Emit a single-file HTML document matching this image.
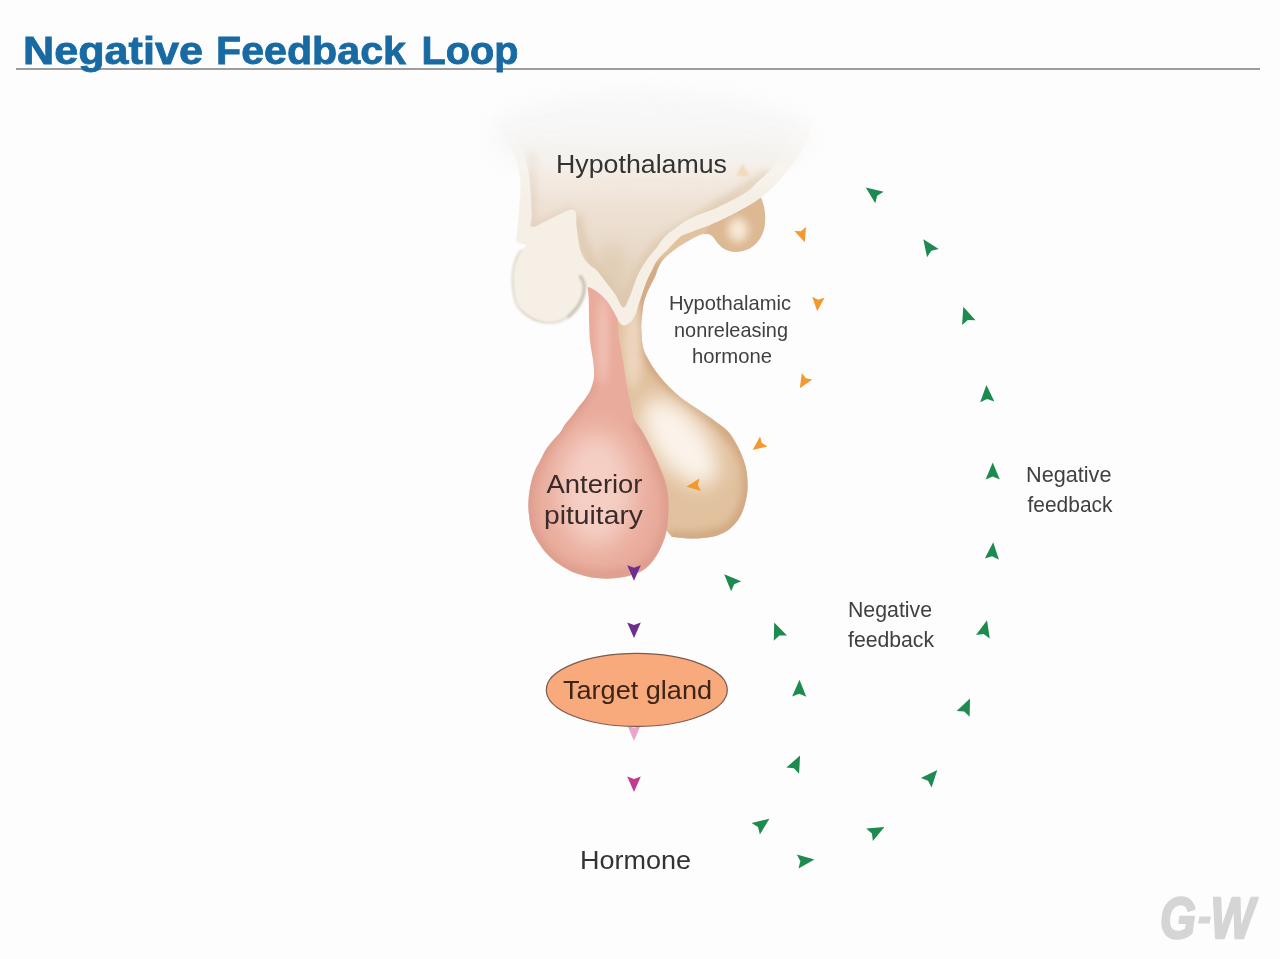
<!DOCTYPE html>
<html><head><meta charset="utf-8"><title>Negative Feedback Loop</title>
<style>
html,body{margin:0;padding:0;background:#fdfdfd;}
body{width:1280px;height:959px;overflow:hidden;position:relative;font-family:"Liberation Sans",sans-serif;}
svg{position:absolute;left:0;top:0;display:block;will-change:transform;}
</style></head><body>
<svg width="1280" height="959" viewBox="0 0 1280 959">
<defs>
  <filter id="blur1" x="-20%" y="-20%" width="140%" height="140%"><feGaussianBlur stdDeviation="1"/></filter>
  <filter id="blur4" x="-50%" y="-50%" width="200%" height="200%"><feGaussianBlur stdDeviation="4"/></filter>
  <filter id="blur5" x="-50%" y="-50%" width="200%" height="200%"><feGaussianBlur stdDeviation="5"/></filter>
  <filter id="blur8" x="-50%" y="-50%" width="200%" height="200%"><feGaussianBlur stdDeviation="8"/></filter>
  <filter id="blur10" x="-60%" y="-60%" width="220%" height="220%"><feGaussianBlur stdDeviation="10"/></filter>
  <filter id="blur12" x="-60%" y="-60%" width="220%" height="220%"><feGaussianBlur stdDeviation="12"/></filter>
  <linearGradient id="fadeV" x1="0" y1="105" x2="0" y2="200" gradientUnits="userSpaceOnUse">
    <stop offset="0" stop-color="#000"/>
    <stop offset="0.18" stop-color="#0d0d0d"/>
    <stop offset="0.38" stop-color="#404040"/>
    <stop offset="0.58" stop-color="#8c8c8c"/>
    <stop offset="0.78" stop-color="#d4d4d4"/>
    <stop offset="1" stop-color="#fff"/>
  </linearGradient>
  <mask id="hypoMask" maskUnits="userSpaceOnUse" x="0" y="0" width="1280" height="959">
    <rect x="0" y="0" width="1280" height="959" fill="url(#fadeV)"/>
  </mask>
  <linearGradient id="innerFade" x1="0" y1="140" x2="0" y2="310" gradientUnits="userSpaceOnUse">
    <stop offset="0" stop-color="#f3ede6"/>
    <stop offset="0.3" stop-color="#f0e5d9"/>
    <stop offset="0.6" stop-color="#eadbcb"/>
    <stop offset="1" stop-color="#e2cfba"/>
  </linearGradient>
  <clipPath id="tanClip"><use href="#tanShape"/></clipPath>
  <clipPath id="pinkClip"><use href="#pinkShape"/></clipPath>
  <clipPath id="innerClip"><use href="#innerShape"/></clipPath>
  <path id="arw" d="M0,0 L-16.9,-7.1 L-14.1,0 L-16.9,7.1 Z"/>
  <path id="arwS" d="M0,0 L-14,-6.2 L-11.6,0 L-14,6.2 Z"/>
  <path id="arwM" d="M0,0 L-15.5,-6.8 L-13,0 L-15.5,6.8 Z"/>
</defs>
<!-- Title -->
<rect x="16" y="68" width="1244" height="2" fill="#9d9d9d"/>
<g id="title" font-family="Liberation Sans" font-weight="bold" font-size="39" fill="#186aa3" stroke="#186aa3" stroke-width="0.8">
<text x="23" y="64" textLength="180" lengthAdjust="spacingAndGlyphs">Negative</text>
<text x="216" y="64" textLength="190" lengthAdjust="spacingAndGlyphs">Feedback</text>
<text x="421.5" y="64" textLength="97" lengthAdjust="spacingAndGlyphs">Loop</text>
</g>
<g id="illus">
  <!-- ============ TAN: posterior lobe + infundibulum band ============ -->
  <path id="tanShape" fill="#e1c19e" d="M716.8,240.9 C715.8,240.0 713.4,236.6 711.0,235.5 C708.6,234.4 706.4,233.2 702.2,234.3 C698.1,235.4 691.0,239.5 686.1,242.3 C681.2,245.1 676.7,248.2 673.0,251.0 C669.3,253.8 666.4,256.2 664.0,259.0 C661.6,261.8 659.8,264.7 658.4,267.5 C657.0,270.3 656.7,272.9 655.5,275.8 C654.3,278.7 652.6,281.6 651.1,284.6 C649.6,287.6 647.9,291.0 646.7,294.0 C645.5,297.0 644.5,299.5 643.8,302.8 C643.1,306.1 642.7,310.1 642.3,313.8 C641.9,317.5 641.3,321.0 641.2,325.0 C641.1,329.0 641.4,333.8 641.8,338.0 C642.2,342.2 642.5,346.1 643.8,350.0 C645.1,353.9 647.4,357.7 649.4,361.3 C651.4,364.9 653.5,368.2 656.0,371.6 C658.5,375.0 661.3,378.5 664.4,381.9 C667.5,385.3 671.3,389.1 674.7,392.2 C678.1,395.3 681.4,398.0 685.0,400.7 C688.6,403.4 692.5,405.7 696.3,408.2 C700.0,410.7 703.9,413.2 707.5,415.7 C711.1,418.2 714.2,420.3 717.9,423.2 C721.6,426.1 725.9,428.5 729.5,433.0 C733.1,437.5 736.9,444.6 739.5,450.0 C742.1,455.4 744.1,460.8 745.4,465.6 C746.7,470.4 747.1,474.4 747.4,478.7 C747.7,483.0 747.8,487.4 747.4,491.7 C747.0,496.0 746.1,500.4 744.8,504.7 C743.5,509.0 742.1,513.7 739.5,517.8 C736.9,521.9 733.0,526.5 729.1,529.5 C725.2,532.5 720.4,534.6 716.0,536.0 C711.6,537.4 707.3,537.6 703.0,538.0 C698.7,538.4 695.2,538.8 690.0,538.6 C684.8,538.4 675.0,537.3 672.0,537.0 L640,500 L605,420 L605,330 L605,300 L640,240 L700,212 L740,196 Z"/>
  <g clip-path="url(#tanClip)">
    <path fill="none" stroke="#cda37b" stroke-width="9" filter="url(#blur4)" d="M660,262 C652,272 646,285 643,300 C641,315 641,330 644,350 C652,367 668,387 690,404 C712,419 735,435 746,463 C750,485 748,512 729,529 C712,537 690,539 668,536"/>
    <ellipse cx="680" cy="442" rx="26" ry="52" transform="rotate(-38 680 442)" fill="#fbf3ea" filter="url(#blur10)"/>
    <ellipse cx="633" cy="345" rx="9" ry="45" fill="#eed9c2" filter="url(#blur5)" opacity="0.9"/>
  </g>

  <!-- mammillary body -->
  <path fill="#dcb893" d="M704,234 C708,232.5 712,234 714,238 C718,245 725,252 736,252 C751,252 763,241 765,224 C766,212 764,202 759,194 L720,212 Z"/>
  <ellipse cx="738" cy="230" rx="10" ry="12" fill="#f8e8d4" filter="url(#blur4)"/>

  <!-- ============ PINK: stalk + anterior lobe ============ -->
  <path id="pinkShape" fill="#e9ac9c" d="M588.5,262.0 C583.5,268.3 588.7,289.5 588.8,300.0 C588.9,310.5 589.0,318.2 589.2,325.0 C589.4,331.8 589.4,335.2 590.0,341.0 C590.6,346.8 592.3,354.8 593.0,360.0 C593.7,365.2 593.9,368.7 594.0,372.0 C594.1,375.3 594.1,377.0 593.5,380.0 C592.9,383.0 591.9,386.8 590.5,390.0 C589.1,393.2 586.9,396.2 585.0,399.0 C583.1,401.8 581.2,403.7 579.0,406.5 C576.8,409.3 574.3,413.0 572.0,416.0 C569.7,419.0 566.9,421.9 565.0,424.5 C563.1,427.1 562.9,429.0 560.8,431.7 C558.7,434.4 554.9,438.0 552.5,440.9 C550.1,443.8 548.2,445.8 546.2,449.0 C544.2,452.2 542.4,456.3 540.5,460.0 C538.6,463.7 536.4,467.0 534.8,471.0 C533.2,475.0 531.8,479.2 530.8,484.0 C529.8,488.8 528.8,494.8 528.5,500.0 C528.2,505.2 528.2,509.4 529.0,515.0 C529.8,520.6 529.8,526.6 533.3,533.6 C536.8,540.6 542.8,550.3 550.0,557.0 C557.2,563.7 567.2,570.0 576.7,573.6 C586.2,577.2 596.7,578.7 606.7,578.7 C616.7,578.7 628.9,576.7 636.7,573.6 C644.5,570.5 648.7,566.4 653.4,560.3 C658.1,554.2 662.5,544.8 665.0,537.0 C667.5,529.2 668.1,521.9 668.4,513.6 C668.7,505.3 668.7,495.9 666.7,487.0 C664.8,478.1 660.6,469.1 656.7,460.2 C652.8,451.3 647.2,440.2 643.5,433.5 C639.8,426.8 636.9,425.0 634.7,420.0 C632.5,415.0 631.9,409.6 630.5,403.4 C629.1,397.2 627.5,389.6 626.3,382.6 C625.1,375.7 624.3,368.6 623.2,361.7 C622.1,354.8 620.4,347.1 619.5,341.0 C618.6,334.9 618.2,331.8 618.0,325.0 C617.8,318.2 618.3,310.5 618.5,300.0 C618.7,289.5 624.0,268.3 619.0,262.0 C614.0,255.7 593.5,255.7 588.5,262.0 Z"/>
  <g clip-path="url(#pinkClip)">
    <path fill="none" stroke="#db9a8a" stroke-width="9" filter="url(#blur5)" d="M591,382 C586,398 570,418 552,441 C536,463 528,488 528.5,507 C529,530 540,550 560,565 C585,578 620,580 645,566 C662,550 670,525 668,500 C664,470 650,445 636,420"/>
    <ellipse cx="596" cy="490" rx="38" ry="58" fill="#f5cfc4" filter="url(#blur12)"/>
    <ellipse cx="603" cy="340" rx="5" ry="45" fill="#f2c6ba" filter="url(#blur4)" opacity="0.9"/>
  </g>

  <!-- ============ HYPOTHALAMUS (masked fade) ============ -->
  <ellipse id="halo" cx="650" cy="138" rx="160" ry="45" fill="#ededed" opacity="0.35" filter="url(#blur12)"/>
  <g mask="url(#hypoMask)">
    <!-- outer cream incl. rim, lamina, optic chiasm -->
    <path fill="#f5efe6" d="M460.0,50.0 C517.5,42.0 755.8,41.7 815.0,50.0 C874.2,58.3 815.5,87.5 815.0,100.0 C814.5,112.5 813.5,117.8 812.0,125.0 C810.5,132.2 808.4,137.6 806.0,143.0 C803.6,148.4 801.4,152.1 797.6,157.6 C793.8,163.1 787.1,171.1 783.0,176.0 C778.9,180.9 776.7,183.4 773.0,187.0 C769.3,190.6 765.5,194.2 761.0,197.5 C756.5,200.8 753.5,203.0 746.3,207.0 C739.1,211.0 727.4,217.2 718.0,221.5 C708.6,225.8 696.3,229.9 690.0,232.5 C683.7,235.1 683.5,234.3 680.0,237.0 C676.5,239.7 672.5,244.7 668.7,248.5 C665.0,252.3 660.4,256.1 657.5,260.0 C654.6,263.9 652.8,268.9 651.1,272.2 C649.4,275.4 648.6,276.7 647.4,279.5 C646.2,282.3 644.9,286.0 643.8,289.0 C642.7,292.0 641.9,294.8 640.9,297.7 C639.9,300.6 638.9,303.8 638.0,306.5 C637.1,309.2 637.0,311.3 635.8,313.8 C634.6,316.3 633.0,319.6 631.0,321.5 C629.0,323.4 626.0,325.3 624.1,325.5 C622.2,325.7 620.7,323.9 619.5,322.5 C618.3,321.1 618.0,319.6 616.8,317.4 C615.6,315.2 614.0,312.1 612.4,309.4 C610.8,306.7 609.4,304.0 607.3,301.4 C605.2,298.8 602.5,296.1 600.0,294.0 C597.5,291.9 594.3,289.5 592.0,288.5 C589.7,287.5 587.3,286.6 586.0,288.0 C584.7,289.4 585.0,294.1 584.0,297.0 C583.0,299.9 582.6,301.7 579.8,305.1 C577.0,308.5 572.8,314.6 567.3,317.6 C561.8,320.6 553.2,323.0 547.0,323.1 C540.8,323.2 534.5,320.7 530.0,318.5 C525.5,316.3 523.0,313.6 520.3,309.8 C517.6,306.1 515.3,300.7 514.0,296.0 C512.7,291.3 512.3,287.4 512.5,281.7 C512.7,276.0 513.6,267.3 515.0,262.0 C516.4,256.7 519.2,252.8 521.0,250.0 C522.8,247.2 526.8,246.9 526.0,245.5 C525.2,244.1 517.9,243.3 516.4,241.5 C514.9,239.7 516.3,240.2 516.8,234.7 C517.3,229.2 518.6,217.0 519.2,208.5 C519.8,200.0 520.9,191.2 520.5,183.5 C520.1,175.8 518.6,168.1 517.0,162.0 C515.4,155.9 513.3,151.8 511.0,147.0 C508.7,142.2 506.8,138.2 503.0,133.0 C499.2,127.8 493.5,121.8 488.0,116.0 C482.5,110.2 474.7,109.0 470.0,98.0 C465.3,87.0 402.5,58.0 460.0,50.0 Z"/>
    <!-- inner darker beige (third ventricle region) -->
    <path id="innerShape" fill="url(#innerFade)" d="M480.0,50.0 C428.3,58.3 485.8,88.7 490.0,100.0 C494.2,111.3 500.3,111.3 505.0,118.0 C509.7,124.7 514.3,132.2 518.0,140.0 C521.7,147.8 524.9,156.7 527.0,165.0 C529.1,173.3 529.7,181.7 530.5,190.0 C531.3,198.3 531.5,208.8 531.8,215.0 C532.0,221.2 529.0,226.3 532.0,227.0 C535.0,227.7 543.1,221.9 550.0,219.0 C556.9,216.1 569.1,208.4 573.5,209.7 C577.9,211.0 575.6,220.6 576.6,227.0 C577.6,233.4 578.5,242.7 579.8,248.0 C581.1,253.3 582.6,256.0 584.5,259.0 C586.4,262.0 588.9,264.1 591.0,266.0 C593.1,267.9 594.5,267.8 597.0,270.5 C599.5,273.2 603.2,278.4 606.3,282.5 C609.4,286.6 612.9,290.8 615.7,295.0 C618.5,299.2 621.0,307.1 623.2,307.5 C625.5,307.9 627.5,301.3 629.2,297.7 C630.9,294.1 632.1,289.9 633.6,286.0 C635.1,282.1 635.8,278.7 638.0,274.4 C640.2,270.1 643.6,264.5 646.7,260.0 C649.8,255.5 653.4,251.7 656.7,247.5 C660.0,243.3 661.2,239.8 666.7,235.0 C672.2,230.2 681.5,223.1 690.0,218.5 C698.5,213.9 708.6,211.6 718.0,207.2 C727.4,202.8 739.7,196.4 746.3,192.2 C752.9,188.0 752.7,186.4 757.5,181.9 C762.3,177.4 769.6,172.0 775.0,165.0 C780.4,158.0 785.8,149.2 790.0,140.0 C794.2,130.8 798.3,125.0 800.0,110.0 C801.7,95.0 853.3,60.0 800.0,50.0 C746.7,40.0 531.7,41.7 480.0,50.0 Z"/>
    <!-- darker shading near V and along rim -->
    <g clip-path="url(#innerClip)">
      <path fill="none" stroke="#dcc7ab" stroke-width="8" filter="url(#blur4)" d="M577,215 C580,240 588,262 602,277 C612,290 618,300 623,307 C630,290 640,262 660,243 C690,222 730,200 770,172"/>
      <path fill="none" stroke="#e2d0c0" stroke-width="7" filter="url(#blur4)" d="M532,150 L532,228 L573,210"/>
      <ellipse cx="612" cy="268" rx="12" ry="26" fill="#dcc6aa" filter="url(#blur8)" opacity="0.6"/>
    </g>
    <!-- optic chiasm edge shading -->
    <path fill="none" stroke="#d6ccbf" stroke-width="1.4" filter="url(#blur1)" d="M521,250 C515,258 512,270 512.5,282 C513,296 516,306 520.3,309.8 C528,318 537,322 547,323.1 C555,323.5 562,321 567.3,317.6"/>
    <path fill="none" stroke="#cfc5b7" stroke-width="3.5" filter="url(#blur1)" d="M567.3,317.6 C573,313 578,308 581,301 C584,295 585,290 584,284 C583,280 581,277 579.8,275.4"/>
  </g>
</g>
<g id="arrows">
  <path d="M742.5,164 L750,176 L736,176 Z" fill="#f2c9a0" opacity="0.55" filter="url(#blur1)"/>
  <use href="#arwS" fill="#f29a2e" transform="translate(804.8,242.2) rotate(70.6)"/>
  <use href="#arwS" fill="#f29a2e" transform="translate(817.2,311.3) rotate(94.8)"/>
  <use href="#arwS" fill="#f29a2e" transform="translate(799.8,388.2) rotate(121.5)"/>
  <use href="#arwS" fill="#f29a2e" transform="translate(752.6,449.9) rotate(143)"/>
  <use href="#arwS" fill="#f29a2e" transform="translate(686.4,486.7) rotate(172)"/>
  <use href="#arwM" fill="#6b2f8f" transform="translate(634.0,580.8) rotate(90)"/>
  <use href="#arwM" fill="#6b2f8f" transform="translate(634.0,638) rotate(90)"/>
  <use href="#arwM" fill="#e7a6cb" transform="translate(634.0,740.8) rotate(90)"/>
  <use href="#arwM" fill="#c23b91" transform="translate(634.0,791.9) rotate(90)"/>
  <use href="#arw" fill="#1d8a4f" transform="translate(769.4,818.8) rotate(-36)"/>
  <use href="#arw" fill="#1d8a4f" transform="translate(800.1,755.5) rotate(-64)"/>
  <use href="#arw" fill="#1d8a4f" transform="translate(799.5,679.7) rotate(-89)"/>
  <use href="#arw" fill="#1d8a4f" transform="translate(774.2,622.5) rotate(-111.5)"/>
  <use href="#arw" fill="#1d8a4f" transform="translate(724.2,574.2) rotate(-135)"/>
  <use href="#arw" fill="#1d8a4f" transform="translate(814.4,859.4) rotate(-7)"/>
  <use href="#arw" fill="#1d8a4f" transform="translate(884.4,826.9) rotate(-28)"/>
  <use href="#arw" fill="#1d8a4f" transform="translate(937.3,770) rotate(-49)"/>
  <use href="#arw" fill="#1d8a4f" transform="translate(970,698.5) rotate(-66)"/>
  <use href="#arw" fill="#1d8a4f" transform="translate(987,620.3) rotate(-76)"/>
  <use href="#arw" fill="#1d8a4f" transform="translate(993.2,542.3) rotate(-85.5)"/>
  <use href="#arw" fill="#1d8a4f" transform="translate(992.7,462.5) rotate(-90)"/>
  <use href="#arw" fill="#1d8a4f" transform="translate(986.4,385) rotate(-93)"/>
  <use href="#arw" fill="#1d8a4f" transform="translate(963.3,306.7) rotate(-109)"/>
  <use href="#arw" fill="#1d8a4f" transform="translate(923.3,239.2) rotate(-124.6)"/>
  <use href="#arw" fill="#1d8a4f" transform="translate(865.8,187.5) rotate(-143.8)"/>
</g>
<!-- Target gland -->
<ellipse cx="636.8" cy="689.9" rx="90.5" ry="36.5" fill="#f9aa7c" stroke="#7d5a4c" stroke-width="1.2"/>
<g id="lbl" font-family="Liberation Sans" fill="#333">
  <text x="556" y="173" font-size="25.5" textLength="171" lengthAdjust="spacingAndGlyphs">Hypothalamus</text>
  <text x="669" y="310" font-size="20.3" fill="#404040" textLength="122" lengthAdjust="spacingAndGlyphs">Hypothalamic</text>
  <text x="674" y="337.3" font-size="20.3" fill="#404040" textLength="114" lengthAdjust="spacingAndGlyphs">nonreleasing</text>
  <text x="692" y="362.7" font-size="20.3" fill="#404040" textLength="80" lengthAdjust="spacingAndGlyphs">hormone</text>
  <text x="546.5" y="492.5" font-size="25.5" fill="#3b2a28" textLength="96" lengthAdjust="spacingAndGlyphs">Anterior</text>
  <text x="544" y="524" font-size="25.5" fill="#3b2a28" textLength="99" lengthAdjust="spacingAndGlyphs">pituitary</text>
  <text x="563" y="699" font-size="25.5" fill="#3c2418" textLength="149" lengthAdjust="spacingAndGlyphs">Target gland</text>
  <text x="580" y="868.7" font-size="26" textLength="111" lengthAdjust="spacingAndGlyphs">Hormone</text>
  <text x="1026" y="482" font-size="21.2" fill="#404040" textLength="85.5" lengthAdjust="spacingAndGlyphs">Negative</text>
  <text x="1027.5" y="511.5" font-size="21.2" fill="#404040" textLength="85" lengthAdjust="spacingAndGlyphs">feedback</text>
  <text x="848" y="617" font-size="21.2" fill="#404040" textLength="84" lengthAdjust="spacingAndGlyphs">Negative</text>
  <text x="848" y="646.5" font-size="21.2" fill="#404040" textLength="86" lengthAdjust="spacingAndGlyphs">feedback</text>
</g>
<g id="gw" fill="#d5d5d5" stroke="#d5d5d5" stroke-width="2.4" stroke-linejoin="round" font-family="Liberation Sans" font-weight="bold" font-style="italic" font-size="57">
  <text x="1160" y="937.5" textLength="36" lengthAdjust="spacingAndGlyphs">G</text>
  <path d="M1199.5,916.5 L1211,916.5 L1209.5,923.5 L1198,923.5 Z" stroke="none"/>
  <text x="1210.5" y="937.5" textLength="44" lengthAdjust="spacingAndGlyphs">W</text>
</g>
</svg>
</body></html>
